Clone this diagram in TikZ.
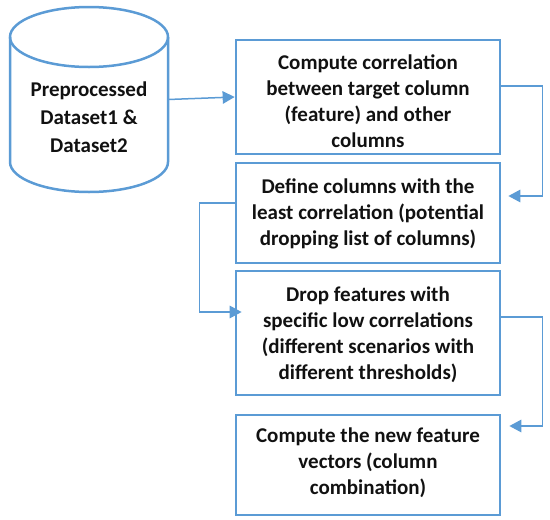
\documentclass[tikz,border=0pt]{standalone}
\usepackage{fontspec}
\setmainfont{Carlito}
\usetikzlibrary{arrows.meta}
\definecolor{lineblue}{HTML}{5B9BD5}
\definecolor{inkc}{HTML}{111111}
\tikzset{
  flowbox/.style={draw=lineblue,line width=2.7pt,minimum width=264pt,inner sep=0pt},
  boxtext/.style={align=center,inner sep=0pt,text=inkc,font=\fontsize{21}{26}\selectfont\bfseries},
  dbtext/.style={align=center,inner sep=0pt,text=inkc,font=\fontsize{21}{28}\selectfont\bfseries},
  dbline/.style={lineblue,line width=2.5pt},
  link/.style={draw=lineblue,line width=1.5pt,-{Triangle[length=12pt,width=12.5pt]}},
}
\begin{document}
\begin{tikzpicture}[x=1pt,y=-1pt]
\useasboundingbox (0,0) rectangle (550,520);
% cylinder
\draw[dbline] (10,37) arc[start angle=180,end angle=360,x radius=79pt,y radius=30pt]
  arc[start angle=0,end angle=-180,x radius=79pt,y radius=-30pt] -- cycle;
\draw[dbline] (10,37) -- (10,162) arc[start angle=180,end angle=360,x radius=79pt,y radius=30pt] -- (168,37);
\node[inner sep=0pt,minimum width=158pt,minimum height=187pt] (db) at (89,99.5) {};
\node[dbtext] (dbt) at (89,117) {Preprocessed\\Dataset1 \&\\Dataset2};
\node[flowbox,minimum height=114pt] (box1) at (368,97) {};
\node[boxtext] (t1) at ([yshift=-4pt]box1.center) {Compute correlation\\between target column\\(feature) and other\\columns};
\node[flowbox,minimum height=100pt] (box2) at (368,213) {};
\node[boxtext] (t2) at ([yshift=-1pt]box2.center) {Define columns with the\\least correlation (potential\\dropping list of columns)};
\node[flowbox,minimum height=124pt] (box3) at (368,333) {};
\node[boxtext] (t3) at ([yshift=-2pt]box3.center) {Drop features with\\specific low correlations\\(different scenarios with\\different thresholds)};
\node[flowbox,minimum height=100pt] (box4) at (368,465) {};
\node[boxtext] (t4) at ([yshift=2pt]box4.center) {Compute the new feature\\vectors (column\\combination)};
\draw[link] (db.east) -- (box1.west);
\draw[link] ([yshift=11pt]box1.east) -- ++(41,0) |- ([xshift=7pt,yshift=17pt]box2.east);
\draw[link] ([yshift=10pt]box2.west) -- ++(-35,0) |- ([xshift=7pt,yshift=21pt]box3.west);
\draw[link] ([yshift=16pt]box3.east) -- ++(41,0) |- ([xshift=8pt,yshift=39pt]box4.east);
\end{tikzpicture}
\end{document}
